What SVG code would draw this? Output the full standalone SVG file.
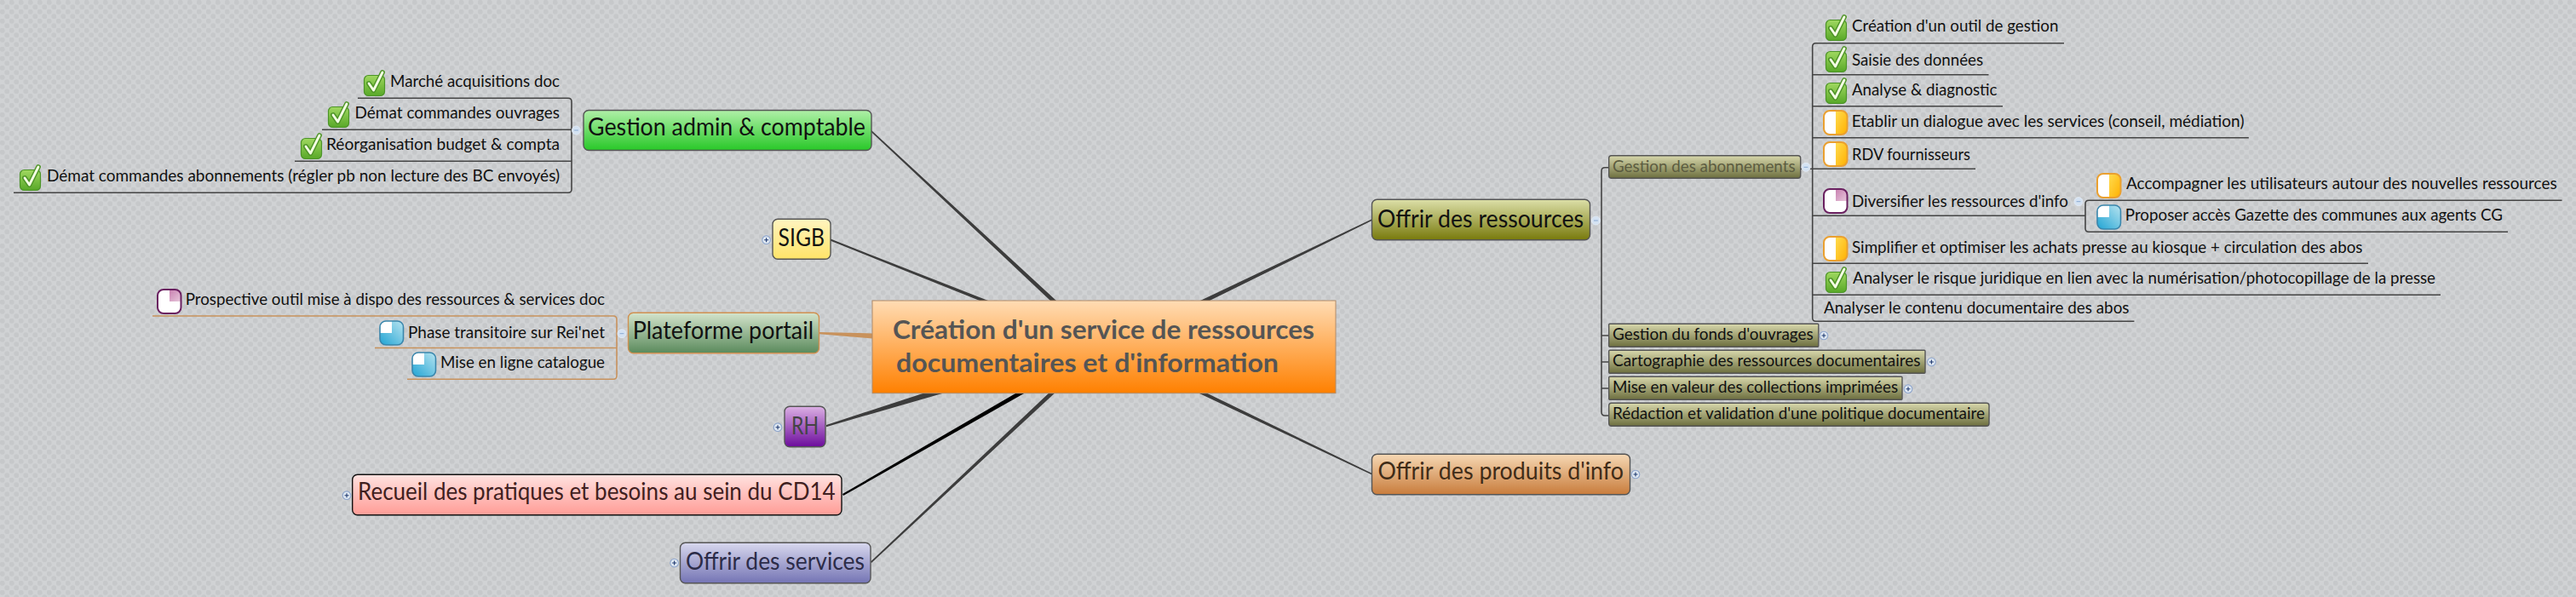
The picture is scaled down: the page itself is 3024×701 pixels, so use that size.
<svg xmlns="http://www.w3.org/2000/svg" width="3024" height="701" viewBox="0 0 3024 701">
<style>
text{font-family:"Lato","Carlito","Liberation Sans",sans-serif;fill:#111}
.i{font-size:19px}
.s{font-size:19px}
.m{font-size:28px}
.c{font-size:31px;font-weight:700;fill:#555}
.n{stroke:#555;stroke-width:1.4}
.l{fill:none;stroke:#444;stroke-width:1.6}
.lo{fill:none;stroke:#c8925c;stroke-width:1.6}
.t{fill:#3c3c3c}
</style>
<defs>
<pattern id="bg" width="11" height="11" patternUnits="userSpaceOnUse">
<rect width="11" height="11" fill="#d0d2d4"/>
<circle cx="2.75" cy="2.75" r="2.9" fill="#c6c8ca"/>
<circle cx="8.25" cy="8.25" r="2.9" fill="#c6c8ca"/>
</pattern>
<linearGradient id="gGreen" x1="0" y1="0" x2="0" y2="1"><stop offset="0" stop-color="#b0f0a8"/><stop offset="1" stop-color="#28c828"/></linearGradient>
<linearGradient id="gYellow" x1="0" y1="0" x2="0" y2="1"><stop offset="0" stop-color="#fff4c0"/><stop offset="1" stop-color="#ffe468"/></linearGradient>
<linearGradient id="gPort" x1="0" y1="0" x2="0" y2="1"><stop offset="0" stop-color="#d4e4cc"/><stop offset="1" stop-color="#5a8a5c"/></linearGradient>
<linearGradient id="gCenter" x1="0" y1="0" x2="0" y2="1"><stop offset="0" stop-color="#ffdcb4"/><stop offset="1" stop-color="#ff8000"/></linearGradient>
<linearGradient id="gRH" x1="0" y1="0" x2="0" y2="1"><stop offset="0" stop-color="#dcb0e4"/><stop offset="1" stop-color="#6c0c9c"/></linearGradient>
<linearGradient id="gPink" x1="0" y1="0" x2="0" y2="1"><stop offset="0" stop-color="#ffe2e0"/><stop offset="1" stop-color="#ff9c96"/></linearGradient>
<linearGradient id="gBlue" x1="0" y1="0" x2="0" y2="1"><stop offset="0" stop-color="#d8d8ee"/><stop offset="1" stop-color="#7474b4"/></linearGradient>
<linearGradient id="gOlive" x1="0" y1="0" x2="0" y2="1"><stop offset="0" stop-color="#dcdfa8"/><stop offset="1" stop-color="#787a0c"/></linearGradient>
<linearGradient id="gSub" x1="0" y1="0" x2="0" y2="1"><stop offset="0" stop-color="#d8d8ac"/><stop offset="1" stop-color="#6c6e3e"/></linearGradient>
<linearGradient id="gProd" x1="0" y1="0" x2="0" y2="1"><stop offset="0" stop-color="#f6d8b4"/><stop offset="1" stop-color="#c87c3c"/></linearGradient>
<linearGradient id="gChk" x1="0" y1="0" x2="0" y2="1"><stop offset="0" stop-color="#a0d860"/><stop offset="1" stop-color="#58a828"/></linearGradient>
<linearGradient id="gOr" x1="0" y1="0" x2="1" y2="1"><stop offset="0" stop-color="#ffdc50"/><stop offset="1" stop-color="#ffb000"/></linearGradient>
<linearGradient id="gPu" x1="0" y1="0" x2="1" y2="1"><stop offset="0" stop-color="#c880b0"/><stop offset="1" stop-color="#e8c8dc"/></linearGradient>
<linearGradient id="gCy" x1="0" y1="1" x2="1" y2="0"><stop offset="0" stop-color="#20a4d4"/><stop offset="1" stop-color="#b8e4f0"/></linearGradient>
<g id="chk">
<rect x="0.5" y="5.5" width="24" height="24" rx="5" fill="url(#gChk)" stroke="#4c9428" stroke-width="1.2"/>
<path d="M6,15 L11.5,23 L22,2" fill="none" stroke="#4f9428" stroke-width="5.8" stroke-linecap="round" stroke-linejoin="round"/>
<path d="M6,15 L11.5,23 L22,2" fill="none" stroke="#f4ffe4" stroke-width="2.8" stroke-linecap="round" stroke-linejoin="round"/>
</g>
<g id="org">
<rect x="1" y="1" width="27.5" height="28" rx="7" fill="#fff"/>
<path d="M15,1 H21.5 Q28.5,1 28.5,8 V22 Q28.5,29 21.5,29 H15 Z" fill="url(#gOr)"/>
<rect x="1" y="1" width="27.5" height="28" rx="7" fill="none" stroke="#eaa030" stroke-width="2"/>
</g>
<g id="pur">
<rect x="1" y="1" width="27.5" height="28" rx="7" fill="#fff"/>
<path d="M15,1 H21.5 Q28.5,1 28.5,8 V15 H15 Z" fill="url(#gPu)"/>
<rect x="1" y="1" width="27.5" height="28" rx="7" fill="none" stroke="#6a2060" stroke-width="2"/>
</g>
<g id="blu">
<rect x="1" y="1" width="27.5" height="28" rx="7" fill="url(#gCy)"/>
<path d="M15,1 H8 Q1,1 1,8 V15 H15 Z" fill="#fff"/>
<rect x="1" y="1" width="27.5" height="28" rx="7" fill="none" stroke="#3a86ac" stroke-width="1.6"/>
</g>
<g id="plus"><circle r="4.8" fill="#dfe8f2" stroke="#8ca4cc" stroke-width="1.1"/><path d="M-2.5,0H2.5M0,-2.5V2.5" stroke="#203a70" stroke-width="1.1"/></g>
<g id="minus"><circle r="5" fill="#d4e2f2" stroke="#e2eaf4" stroke-width="1"/><path d="M-2.4,0H2.4" stroke="#88a8d0" stroke-width="1"/></g>
</defs>
<rect id="background" width="3024" height="701" fill="url(#bg)"/>

<g id="connectors">
<polygon class="t" points="1023,153 1023,155.2 1233,353 1240,353"/>
<polygon class="t" points="975,280.6 975,282.8 1150,353 1160,353"/>
<polygon fill="#c8925c" points="962,390 962,392.2 1024,397.5 1024,391.5"/>
<polygon class="t" points="970,499 970,501.2 1107,461.7 1084,461.7"/>
<polygon fill="#000" points="989,580 990,582 1202.5,461.7 1192.5,461.7"/>
<polygon class="t" points="1022,659.5 1023,661 1238,461.7 1231,461.7"/>
<polygon class="t" points="1610.5,257.3 1610.5,259 1420,353 1409,353"/>
<polygon class="t" points="1610.5,555.7 1610.5,557.5 1407.5,461.7 1417,461.7"/>
<path class="l" d="M420,115.3 H667 Q671,115.3 671,119.3 V222.3 Q671,226.3 667,226.3 H16 M378,152.3 H671 M346,189.3 H671"/>
<path class="lo" d="M179,371 H720 Q724,371 724,375 V441.3 Q724,445.3 720,445.3 H478 M440,408.5 H724"/>
<path class="l" d="M1889,196.7 H1884 Q1880,196.7 1880,200.7 V484 Q1880,488 1884,488 H1889 M1880,394 H1889 M1880,425 H1889 M1880,456 H1889"/>
<path class="l" d="M2423,50.7 H2131.7 Q2127.7,50.7 2127.7,54.7 V373.3 Q2127.7,377.3 2131.7,377.3 H2505.4 M2334.5,87.7 H2127.7 M2351,124.7 H2127.7 M2639.8,161.7 H2127.7 M2319,198.3 H2113.7 M2448,253.3 H2127.7 M2780,309.3 H2127.7 M2865,346.3 H2127.7"/>
<path class="l" d="M3007.5,235.3 H2452 Q2448,235.3 2448,239.3 V268.3 Q2448,272.3 2452,272.3 H2944"/>
</g>

<g id="center"><rect x="1024" y="353" width="544" height="108.7" fill="url(#gCenter)" stroke="#b08a68" stroke-width="1"/>
<text class="c" x="1048" y="398" textLength="495" lengthAdjust="spacingAndGlyphs">Création d'un service de ressources</text>
<text class="c" x="1052" y="437" textLength="449" lengthAdjust="spacingAndGlyphs">documentaires et d'information</text></g>

<g id="gestion-admin"><rect class="n" x="685" y="129.5" width="338" height="47" rx="6" fill="url(#gGreen)"/>
<text class="m" x="690" y="159" textLength="326" lengthAdjust="spacingAndGlyphs">Gestion admin &amp; comptable</text><use href="#minus" x="676.5" y="153"/></g>
<g id="item-marche"><use href="#chk" x="427" y="83"/><text class="i" x="458" y="102" textLength="199" lengthAdjust="spacingAndGlyphs">Marché acquisitions doc</text></g>
<g id="item-demat-ouvrages"><use href="#chk" x="385" y="120"/><text class="i" x="416.6" y="139" textLength="240.4" lengthAdjust="spacingAndGlyphs">Démat commandes ouvrages</text></g>
<g id="item-reorg"><use href="#chk" x="353" y="157"/><text class="i" x="383" y="176" textLength="274" lengthAdjust="spacingAndGlyphs">Réorganisation budget &amp; compta</text></g>
<g id="item-demat-abos"><use href="#chk" x="23" y="194"/><text class="i" x="55" y="213" textLength="602" lengthAdjust="spacingAndGlyphs">Démat commandes abonnements (régler pb non lecture des BC envoyés)</text></g>

<g id="sigb"><rect class="n" x="907" y="257.3" width="68" height="47" rx="6" fill="url(#gYellow)"/>
<text class="m" x="913.6" y="289" textLength="54.4" lengthAdjust="spacingAndGlyphs">SIGB</text><use href="#plus" x="899.6" y="281.7"/></g>

<g id="plateforme"><rect x="737.5" y="367.3" width="224" height="47.4" rx="6" fill="url(#gPort)" stroke="#d09050" stroke-width="1.4"/>
<text class="m" x="742.7" y="398" textLength="212.3" lengthAdjust="spacingAndGlyphs">Plateforme portail</text><use href="#minus" x="730" y="391.7"/></g>
<g id="item-prospective"><use href="#pur" x="184" y="339"/><text class="i" x="217.7" y="358" textLength="492.3" lengthAdjust="spacingAndGlyphs">Prospective outil mise à dispo des ressources &amp; services doc</text></g>
<g id="item-phase"><use href="#blu" x="445" y="376"/><text class="i" x="479" y="397" textLength="231" lengthAdjust="spacingAndGlyphs">Phase transitoire sur Rei'net</text></g>
<g id="item-mise-ligne"><use href="#blu" x="483" y="413"/><text class="i" x="517" y="432" textLength="193" lengthAdjust="spacingAndGlyphs">Mise en ligne catalogue</text></g>

<g id="rh"><rect class="n" x="921" y="477.3" width="48" height="47.4" rx="6" fill="url(#gRH)"/>
<text class="m" x="929" y="510" textLength="32" lengthAdjust="spacingAndGlyphs" style="fill:#444">RH</text><use href="#plus" x="913" y="501.7"/></g>
<g id="recueil"><rect x="413.7" y="557.3" width="574.3" height="47.4" rx="6" fill="url(#gPink)" stroke="#111" stroke-width="1.4"/>
<text class="m" x="420" y="587" textLength="560.6" lengthAdjust="spacingAndGlyphs" style="fill:#402020">Recueil des pratiques et besoins au sein du CD14</text><use href="#plus" x="407" y="581.7"/></g>
<g id="services"><rect class="n" x="798.5" y="637.3" width="223.5" height="47.4" rx="6" fill="url(#gBlue)"/>
<text class="m" x="805" y="669" textLength="210" lengthAdjust="spacingAndGlyphs" style="fill:#2c2c48">Offrir des services</text><use href="#plus" x="791.6" y="661"/></g>

<g id="ressources"><rect class="n" x="1610.5" y="234.3" width="256" height="47.4" rx="6" fill="url(#gOlive)"/>
<text class="m" x="1617" y="266.7" textLength="242" lengthAdjust="spacingAndGlyphs">Offrir des ressources</text><use href="#minus" x="1873.4" y="259"/></g>
<g id="produits"><rect class="n" x="1610.5" y="533.3" width="303" height="47.4" rx="6" fill="url(#gProd)"/>
<text class="m" x="1617.4" y="563" textLength="288.6" lengthAdjust="spacingAndGlyphs" style="fill:#402c18">Offrir des produits d'info</text><use href="#plus" x="1920" y="557"/></g>

<g id="abonnements"><rect class="n" x="1888.7" y="182.7" width="225" height="26.6" rx="3" fill="url(#gSub)"/>
<text class="s" x="1893" y="202.3" textLength="214.6" lengthAdjust="spacingAndGlyphs" style="fill:#5c5c40">Gestion des abonnements</text><use href="#minus" x="2120" y="196.3"/></g>
<g id="fonds"><rect class="n" x="1888.7" y="380.3" width="246.1" height="27" rx="1" fill="url(#gSub)"/>
<text class="s" x="1893" y="398.7" textLength="235.6" lengthAdjust="spacingAndGlyphs">Gestion du fonds d'ouvrages</text><use href="#plus" x="2141" y="394"/></g>
<g id="cartographie"><rect class="n" x="1888.7" y="411.3" width="371.3" height="27" rx="1" fill="url(#gSub)"/>
<text class="s" x="1893" y="430" textLength="361.4" lengthAdjust="spacingAndGlyphs">Cartographie des ressources documentaires</text><use href="#plus" x="2267.4" y="425"/></g>
<g id="valeur"><rect class="n" x="1888.7" y="442.3" width="344.3" height="27" rx="1" fill="url(#gSub)"/>
<text class="s" x="1893" y="461" textLength="335" lengthAdjust="spacingAndGlyphs">Mise en valeur des collections imprimées</text><use href="#plus" x="2240" y="456.7"/></g>
<g id="redaction"><rect class="n" x="1888.7" y="473.3" width="446.3" height="27" rx="3" fill="url(#gSub)"/>
<text class="s" x="1893" y="491.7" textLength="437" lengthAdjust="spacingAndGlyphs">Rédaction et validation d'une politique documentaire</text></g>

<g id="item-creation"><use href="#chk" x="2143" y="18"/><text class="i" x="2174" y="37" textLength="242.4" lengthAdjust="spacingAndGlyphs">Création d'un outil de gestion</text></g>
<g id="item-saisie"><use href="#chk" x="2143" y="55"/><text class="i" x="2174" y="76.7" textLength="154" lengthAdjust="spacingAndGlyphs">Saisie des données</text></g>
<g id="item-analyse"><use href="#chk" x="2143" y="92"/><text class="i" x="2174" y="111.7" textLength="170.5" lengthAdjust="spacingAndGlyphs">Analyse &amp; diagnostic</text></g>
<g id="item-etablir"><use href="#org" x="2140" y="129"/><text class="i" x="2173.7" y="149" textLength="460.8" lengthAdjust="spacingAndGlyphs">Etablir un dialogue avec les services (conseil, médiation)</text></g>
<g id="item-rdv"><use href="#org" x="2140" y="166"/><text class="i" x="2174" y="187.7" textLength="139" lengthAdjust="spacingAndGlyphs">RDV fournisseurs</text></g>
<g id="item-diversifier"><use href="#pur" x="2140" y="221"/><text class="i" x="2174" y="242.7" textLength="254" lengthAdjust="spacingAndGlyphs">Diversifier les ressources d'info</text><use href="#minus" x="2440" y="236.7"/></g>
<g id="item-accompagner"><use href="#org" x="2461" y="203"/><text class="i" x="2496" y="222.3" textLength="505.6" lengthAdjust="spacingAndGlyphs">Accompagner les utilisateurs autour des nouvelles ressources</text></g>
<g id="item-proposer"><use href="#blu" x="2461" y="240"/><text class="i" x="2494.8" y="259" textLength="443.2" lengthAdjust="spacingAndGlyphs">Proposer accès Gazette des communes aux agents CG</text></g>
<g id="item-simplifier"><use href="#org" x="2140" y="277"/><text class="i" x="2174" y="296.7" textLength="599.5" lengthAdjust="spacingAndGlyphs">Simplifier et optimiser les achats presse au kiosque + circulation des abos</text></g>
<g id="item-risque"><use href="#chk" x="2143" y="314"/><text class="i" x="2175" y="333.3" textLength="684" lengthAdjust="spacingAndGlyphs">Analyser le risque juridique en lien avec la numérisation/photocopillage de la presse</text></g>
<g id="item-contenu"><text class="i" x="2141" y="367.7" textLength="358.5" lengthAdjust="spacingAndGlyphs">Analyser le contenu documentaire des abos</text></g>
</svg>
